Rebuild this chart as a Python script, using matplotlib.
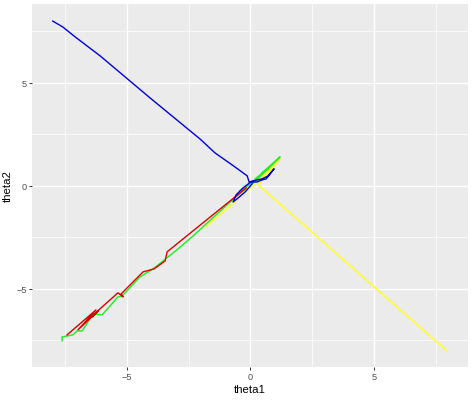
import numpy as np
import matplotlib.pyplot as plt

plt.rcParams["font.family"] = ["Liberation Sans", "DejaVu Sans"]

# trajectories (theta1, theta2)
blue_t1 = [-8.0, -7.6, -7.09, -6.08, -4.06, -2.04, -1.43, -0.74, -0.13, -0.05, 0.27, 0.47,
           0.64, 0.96, 0.72, 0.47, 0.07, -0.30, -0.58, -0.70, -0.54, -0.21, 0.07]
blue_t2 = [8.0, 7.72, 7.23, 6.31, 4.27, 2.28, 1.60, 1.02, 0.49, 0.19, 0.19, 0.29,
           0.34, 0.83, 0.49, 0.34, 0.24, -0.10, -0.44, -0.78, -0.63, -0.29, 0.10]

green_t1 = [-7.62, -7.62, -7.18, -7.02, -6.81, -6.37, -6.00, -5.36, -5.19, -4.47, -3.94,
            -2.93, -2.32, -0.82, -0.21, -0.42, 0.31, 0.07, 0.72, 0.47, 1.20, 0.80, 0.19]
green_t2 = [-7.52, -7.33, -7.23, -7.04, -7.04, -6.21, -6.26, -5.39, -5.34, -4.42, -4.03,
            -3.06, -2.43, -0.78, -0.15, -0.24, 0.34, 0.10, 0.83, 0.63, 1.41, 0.92, 0.34]

red_t1 = [-7.42, -6.25, -6.98, -6.17, -6.41, -6.09, -5.36, -5.15, -5.23, -4.34, -3.90,
          -3.45, -3.37, -2.32, -0.82, -0.17]
red_t2 = [-7.23, -6.02, -6.99, -6.07, -6.36, -5.97, -5.19, -5.39, -5.24, -4.17, -4.03,
          -3.64, -3.20, -2.18, -0.73, -0.10]

yellow_t1 = [-1.83, -0.82, 0.19, 1.20, 0.80, 0.31, 0.51, 7.96]
yellow_t2 = [-1.99, -0.97, 0.10, 1.31, 0.73, 0.05, -0.15, -8.01]

ticks = [-5, 0, 5]
minor = [-7.5, -2.5, 2.5, 7.5]

fig = plt.figure(figsize=(4.74, 4.02), dpi=100)
ax = fig.add_axes([32 / 474, 34 / 402, 436 / 474, 363 / 402])
ax.set_facecolor("#EBEBEB")
for s in ax.spines.values():
    s.set_visible(False)

ax.set_xticks(ticks)
ax.set_yticks(ticks)
ax.set_xticks(minor, minor=True)
ax.set_yticks(minor, minor=True)
ax.grid(which="major", color="white", linewidth=1.0)
ax.grid(which="minor", color="white", linewidth=0.5)
ax.set_axisbelow(True)
ax.tick_params(which="major", length=2, width=0.7, color="#333333",
               labelsize=6.6, labelcolor="#4D4D4D", pad=1.6)
ax.tick_params(which="minor", length=0)

ax.plot(yellow_t1, yellow_t2, color="#FFFF33", linewidth=1.2)
ax.plot(green_t1, green_t2, color="#22EE22", linewidth=1.05)
ax.plot(red_t1, red_t2, color="#DD0000", linewidth=1.0)
ax.plot(blue_t1, blue_t2, color="#0000DD", linewidth=1.0)

ax.set_xlim(-8.84, 8.81)
ax.set_ylim(-8.79, 8.83)
ax.set_xlabel("theta1", fontsize=8.2, labelpad=2)
ax.set_ylabel("theta2", fontsize=8.2, labelpad=3)

fig.savefig("out.png", dpi=100)
